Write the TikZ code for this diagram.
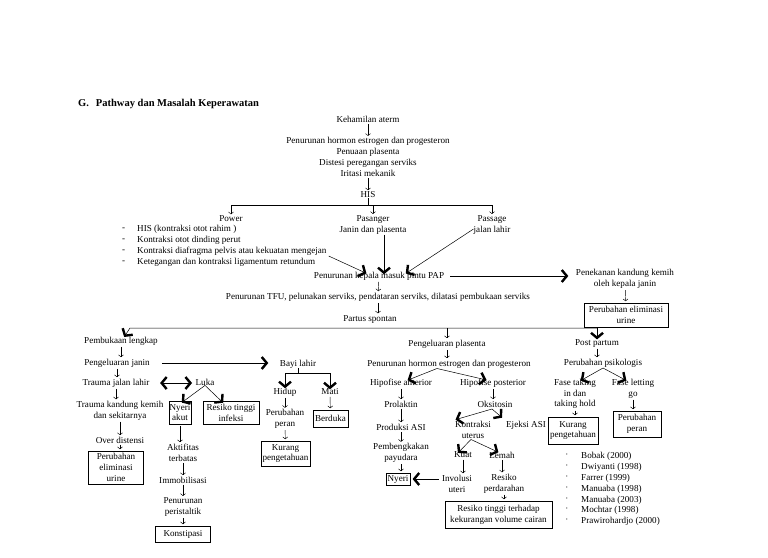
\documentclass[tikz,border=0pt]{standalone}
\usepackage{fontspec}
\setmainfont{Liberation Serif}
\usetikzlibrary{arrows.meta,decorations.markings,calc}
\begin{document}
\begin{tikzpicture}[x=1pt,y=-1pt,
 t/.style={inner sep=0pt, align=center, font=\fontsize{9.1}{10.8}\selectfont},
 bx/.style={t, draw, line width=0.6pt, inner xsep=1.5pt, inner ysep=1.5pt},
 sa/.style={-{Straight Barb[length=2pt,width=5pt]}, line width=0.45pt, shorten <=1.5pt, shorten >=1.5pt},
 ln/.style={line width=0.5pt},
 ba/.style={ln, postaction={decorate}, decoration={markings,
   mark=at position 1 with {\draw[line width=2.4pt, line join=miter, line cap=butt, solid] (-5pt,6pt) -- (0pt,0pt) -- (-5pt,-6pt);}}},
 bb/.style={ln, postaction={decorate}, decoration={markings,
   mark=at position 0 with {\draw[line width=2.4pt, line join=miter, line cap=butt, solid] (5pt,6pt) -- (0pt,0pt) -- (5pt,-6pt);},
   mark=at position 1 with {\draw[line width=2.4pt, line join=miter, line cap=butt, solid] (-5pt,6pt) -- (0pt,0pt) -- (-5pt,-6pt);}}}]
\useasboundingbox (0,0) rectangle (768,557);
% title
\node[t, font=\bfseries\fontsize{10.5}{12}\selectfont, anchor=west] (title) at (78,104) {G.\hspace{7pt}Pathway dan Masalah Keperawatan};
% top column
\node[t] (kh) at (368,119) {Kehamilan aterm};
\node[t] (pen) at (368,157) {Penurunan hormon estrogen dan progesteron\\Penuaan plasenta\\Distesi peregangan serviks\\Iritasi mekanik};
\node[t] (his) at (368,195) {HIS};
\draw[sa] (kh) -- (pen);
\draw[sa] (pen) -- (his);
\coordinate (hj) at (368,205);
\draw[ln] (his.south) -- (hj);
\node[t] (pow) at (231,219) {Power};
\node[t] (pas) at (373,225) {Pasanger\\Janin dan plasenta};
\node[t] (psg) at (492,225) {Passage\\jalan lahir};
\draw[ln] (pow.north |- hj) -- (psg.north |- hj);
\draw[sa, shorten <=0pt] (pow.north |- hj) -- (pow.north);
\draw[sa, shorten <=0pt] (pas.north |- hj) -- (pas.north);
\draw[sa, shorten <=0pt] (psg.north |- hj) -- (psg.north);
% power list
\node[t, anchor=west] (d1) at (122,229) {-};
\node[t, anchor=west] (d2) at (122,240) {-};
\node[t, anchor=west] (d3) at (122,251) {-};
\node[t, anchor=west] (d4) at (122,262) {-};
\node[t, anchor=west] (li1) at (137,229) {HIS (kontraksi otot rahim )};
\node[t, anchor=west] (li2) at (137,240) {Kontraksi otot dinding perut};
\node[t, anchor=west] (li3) at (137,251) {Kontraksi diafragma pelvis atau kekuatan mengejan};
\node[t, anchor=west] (li4) at (137,262) {Ketegangan dan kontraksi ligamentum retundum};
% PAP
\node[t] (pap) at (379,276) {Penurunan kepala masuk pintu PAP};
\draw[ba] ([xshift=2pt,yshift=-5pt]li3.east) -- ([xshift=-14pt,yshift=-1pt]pap.north);
\draw[ba] ([xshift=11pt]pas.south) -- ([xshift=5pt,yshift=-1pt]pap.north);
\draw[ba] ([yshift=-4pt]psg.west) -- ([xshift=28pt,yshift=-1pt]pap.north);
\node[t] (pek) at (625,279) {Penekanan kandung kemih\\oleh kepala janin};
\draw[ba] ($(pap.east)+(6pt,0)$) -- ($(pap.east -| pek.west)+(-9pt,0)$);
\node[bx, minimum width=84pt, minimum height=24pt] (b1) at (626,315) {Perubahan eliminasi\\urine};
\draw[sa] (pek) -- (b1);
\node[t] (tfu) at (378,297) {Penurunan TFU, pelunakan serviks, pendataran serviks, dilatasi pembukaan serviks};
\draw[sa] (pap) -- (tfu);
\node[t] (ps) at (370,319) {Partus spontan};
\draw[sa] (tfu) -- (tfu |- ps.north);
% branches
\node[t] (pl) at (121,341) {Pembukaan lengkap};
\node[t] (pp2) at (447,344) {Pengeluaran plasenta};
\node[t] (post) at (597,343) {Post partum};
\coordinate (hlR) at (597,328);
\coordinate (hlL) at (130,328);
\draw[ba] (hlR) -- (hlL) -- ([xshift=4pt,yshift=1pt]pl.north);
\draw[ba] (hlR) -- ([yshift=1pt]post.north);
\draw[sa, shorten <=0pt] (pp2.north |- hlR) -- (pp2.north);
% left column
\node[t] (pj) at (117,363) {Pengeluaran janin};
\node[t] (tj) at (116,383) {Trauma jalan lahir};
\node[t] (tk) at (120,410.5) {Trauma kandung kemih\\dan sekitarnya};
\node[t] (od) at (120,440) {Over distensi};
\node[bx, minimum width=55pt, minimum height=33pt] (b2) at (116,467.5) {Perubahan\\eliminasi\\urine};
\draw[sa] (pl) -- (pl |- pj.north);
\draw[sa] (pj) -- (pj |- tj.north);
\draw[sa] (tj) -- (tj |- tk.north);
\draw[sa] (tk) -- (tk |- od.north);
\draw[sa] (od) -- (od |- b2.north);
\node[t] (luka) at (205,382) {Luka};
\draw[bb] ($(tj.east)+(12pt,0)$) -- ($(tj.east -| luka.west)+(-5pt,0)$);
\node[bx, minimum width=18pt, minimum height=23pt, inner xsep=0.5pt] (na) at (180,412.5) {Nyeri\\akut};
\node[bx, minimum width=56pt, minimum height=23pt] (rti) at (231,412.5) {Resiko tinggi\\infeksi};
\draw[ba] (luka.south) -- ([xshift=3pt,yshift=-1pt]na.north);
\draw[ba] (luka.south) -- ([xshift=-9pt,yshift=-1pt]rti.north);
\node[t] (akt) at (183,452.5) {Aktifitas\\terbatas};
\node[t] (imm) at (183,480) {Immobilisasi};
\node[t] (pper) at (183,507) {Penurunan\\peristaltik};
\node[bx, minimum width=55pt, minimum height=16pt] (kon) at (183,534) {Konstipasi};
\draw[sa] (na) -- (na |- akt.north);
\draw[sa] (akt) -- (imm);
\draw[sa] (imm) -- (pper);
\draw[sa] (pper) -- (kon);
% bayi lahir
\node[t] (bl) at (298,364) {Bayi lahir};
\draw[ba] ($(pj.east)+(12pt,0)$) -- ($(pj.east -| bl.west)+(-13pt,0)$);
\node[t] (hid) at (285,392) {Hidup};
\node[t] (mati) at (330,392) {Mati};
\coordinate (bj) at (298,373);
\draw[ln] (bl.south) -- (bj);
\draw[ln] (hid.north |- bj) -- (mati.north |- bj);
\draw[ba] (hid.north |- bj) -- ([yshift=1pt]hid.north);
\draw[ba] (mati.north |- bj) -- ([yshift=1pt]mati.north);
\node[t] (pper2) at (285,419) {Perubahan\\peran};
\node[bx, minimum width=49pt, minimum height=25pt] (b3) at (285.5,453.5) {Kurang\\pengetahuan};
\node[bx, minimum width=35pt, minimum height=17pt] (b4) at (330.5,418.5) {Berduka};
\draw[sa] (hid) -- (pper2);
\draw[sa] (pper2) -- (b3);
\draw[sa] (mati) -- (b4);
% plasenta
\node[t] (phe) at (449,364) {Penurunan hormon estrogen dan progesteron};
\draw[sa] (pp2) -- (pp2 |- phe.north);
\node[t] (ha) at (401,383) {Hipofise anterior};
\node[t] (hp) at (493,383) {Hipofise posterior};
\coordinate (f1) at (437,368.5);
\draw[ba] (f1) -- ([xshift=8pt,yshift=-1pt]ha.north);
\draw[ba] (f1) -- ([xshift=-8pt,yshift=-1pt]hp.north);
\node[t] (prol) at (401,404) {Prolaktin};
\node[t] (pasi) at (401,427) {Produksi ASI};
\node[t] (pemb) at (401,453) {Pembengkakan\\payudara};
\node[bx, minimum width=22pt, minimum height=12pt, inner ysep=1pt] (ny) at (398,479) {Nyeri};
\draw[sa] (ha) -- (prol);
\draw[sa] (prol) -- (pasi);
\draw[sa] (pasi) -- (pemb);
\draw[sa] (pemb) -- (pemb |- ny.north);
\node[t] (okt) at (495,404) {Oksitosin};
\draw[sa] (hp) -- (hp |- okt.north);
\node[t] (ku) at (473,430) {Kontraksi\\uterus};
\node[t] (ej) at (526,425) {Ejeksi ASI};
\coordinate (f2) at (492,409);
\draw[ba] (f2) -- ([xshift=-16pt,yshift=2pt]ku.north);
\draw[ba] (f2) -- ([xshift=-25pt,yshift=4pt]ej.north);
\node[t] (kuat) at (463,455) {Kuat};
\node[t] (lemah) at (502,455) {Lemah};
\coordinate (f3) at (471,439.5);
\draw[ba] (f3) -- ([xshift=-4pt]kuat.north);
\draw[ba] (f3) -- ([xshift=-5pt]lemah.north);
\node[t] (inv) at (457,483.5) {Involusi\\uteri};
\node[t] (res) at (504,483.5) {Resiko\\perdarahan};
\node[bx, minimum width=107pt, minimum height=27pt] (b5) at (498.5,514.5) {Resiko tinggi terhadap\\kekurangan volume cairan};
\draw[sa] (kuat) -- (kuat |- inv.north);
\draw[ba] ($(inv.west |- ny)+(-3pt,0)$) -- ($(ny.east)+(4pt,0)$);
\draw[sa] (lemah) -- (lemah |- res.north);
\draw[sa] (res) -- (res |- b5.north);
% post partum
\node[t] (psi) at (603,363) {Perubahan psikologis};
\draw[sa] (post) -- (post |- psi.north);
\node[t] (ft) at (575,394) {Fase taking\\in dan\\taking hold};
\node[t] (fl) at (633,388.5) {Fase letting\\go};
\coordinate (f4) at (603,368);
\draw[ba] (f4) -- ([xshift=7pt,yshift=-1pt]ft.north);
\draw[ba] (f4) -- ([xshift=-8pt,yshift=-1pt]fl.north);
\node[bx, minimum width=50pt, minimum height=27pt] (b6) at (573,430.5) {Kurang\\pengetahuan};
\node[bx, minimum width=48pt, minimum height=26pt] (b7) at (637,424) {Perubahan\\peran};
\draw[sa] (ft) -- (ft |- b6.north);
\draw[sa] (fl) -- (fl |- b7.north);
% references
\foreach \y/\txt [count=\i] in {456/Bobak (2000),467/Dwiyanti (1998),478/Farrer (1999),489/Manuaba (1998),500/Manuaba (2003),510/Mochtar (1998),521/Prawirohardjo (2000)}{
  \node[t] (rd\i) at (567,\y) {·};
  \node[t, anchor=west] (r\i) at (581,\y) {\txt};
}
\end{tikzpicture}
\end{document}
